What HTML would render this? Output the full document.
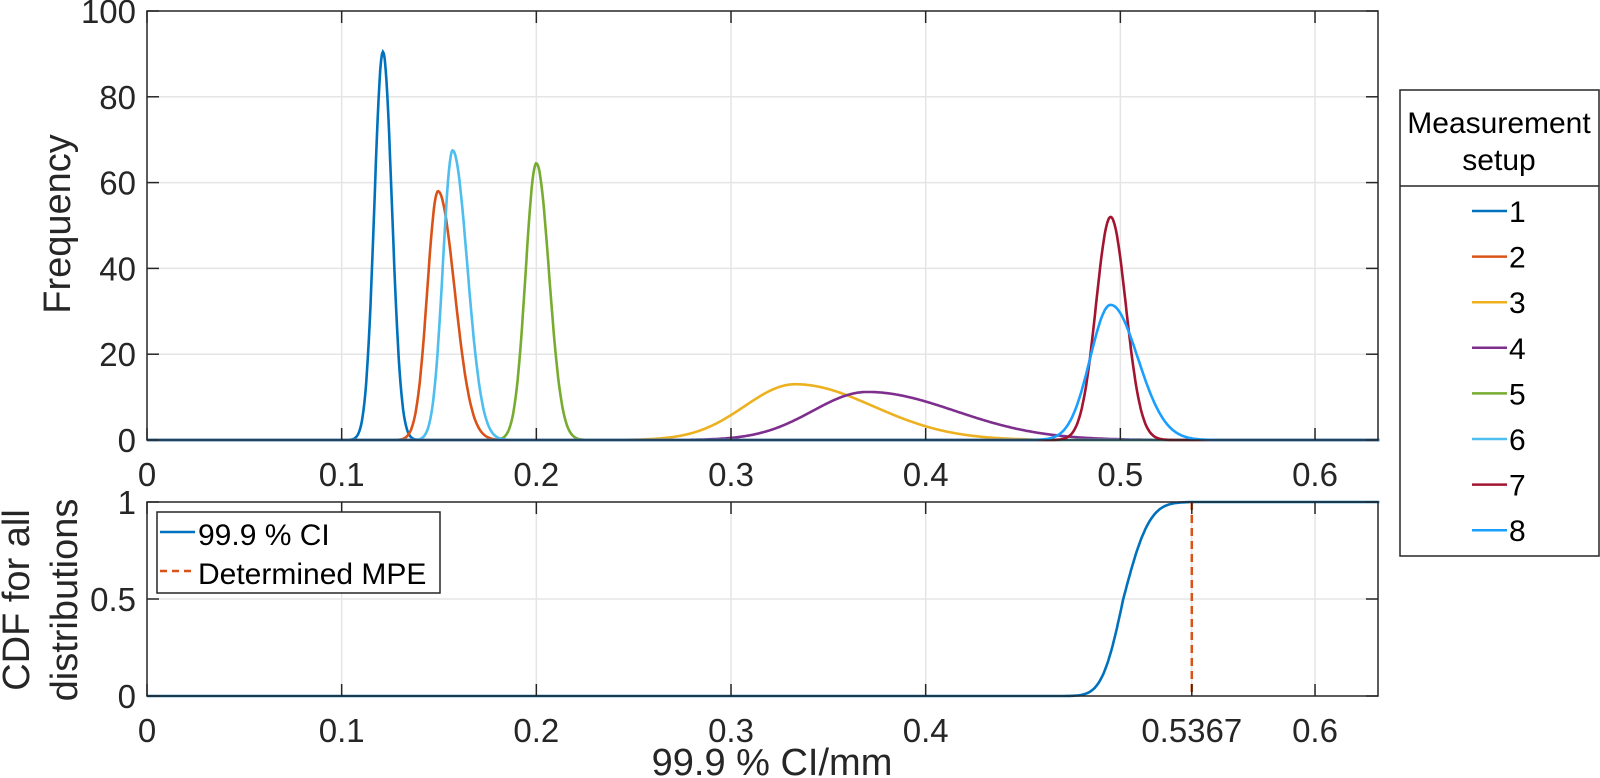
<!DOCTYPE html>
<html><head><meta charset="utf-8"><style>
html,body{margin:0;padding:0;background:#fff;}
svg{display:block;font-family:"Liberation Sans",Arial,sans-serif;}
</style></head><body>
<svg id="s" width="1600" height="778" viewBox="0 0 1600 778" xmlns="http://www.w3.org/2000/svg"></svg>
<script>
const S=document.getElementById('s');let h='';
const X0=147,XS=1946.7,XR=1378;
const X=v=>X0+v*XS;
const T1=11,B1=440,Y1=v=>B1-v*4.29;
const T2=502,B2=696,Y2=v=>B2-v*194;
[0.1,0.2,0.3,0.4,0.5,0.6].forEach(v=>{h+=`<line x1="${X(v)}" y1="${T1}" x2="${X(v)}" y2="${B1}" stroke="#e5e5e5" stroke-width="1.5"/>`;});
[20,40,60,80].forEach(v=>{h+=`<line x1="${X0}" y1="${Y1(v)}" x2="${XR}" y2="${Y1(v)}" stroke="#e5e5e5" stroke-width="1.5"/>`;});
[0.1,0.2,0.3,0.4,0.5367,0.6].forEach(v=>{h+=`<line x1="${X(v)}" y1="${T2}" x2="${X(v)}" y2="${B2}" stroke="#e5e5e5" stroke-width="1.5"/>`;});
h+=`<line x1="${X0}" y1="${Y2(0.5)}" x2="${XR}" y2="${Y2(0.5)}" stroke="#e5e5e5" stroke-width="1.5"/>`;
const series=[
 ['#0072BD',0.1212,90.5,0.0044,0.0046],
 ['#D95319',0.1495,58,0.0055,0.0085],
 ['#EDB120',0.333,13,0.026,0.04],
 ['#7E2F8E',0.37,11.2,0.028,0.045],
 ['#77AC30',0.2,64.5,0.0055,0.0065],
 ['#4DBEEE',0.157,67.5,0.005,0.0075],
 ['#A2142F',0.495,52,0.0075,0.0078],
 ['#1A9FFF',0.495,31.5,0.0105,0.014]];
series.forEach(([c,m,p,sl,sr])=>{let d='';for(let i=0;i<=1400;i++){const v=i/1400*0.633;const s=v<m?sl:sr;const y=p*Math.exp(-0.5*((v-m)/s)**2);d+=(i?'L':'M')+X(v).toFixed(1)+' '+Y1(y).toFixed(1);}
h+=`<path d="${d}" fill="none" stroke="${c}" stroke-width="2.6"/>`;});
function erf(x){const t=1/(1+0.3275911*Math.abs(x));const y=1-(((((1.061405429*t-1.453152027)*t)+1.421413741)*t-0.284496736)*t+0.254829592)*t*Math.exp(-x*x);return x>=0?y:-y;}
let d='';for(let i=0;i<=1400;i++){const v=i/1400*0.633;const m=0.5015;const s=v<m?0.0085:0.0105;const y=0.5*(1+erf((v-m)/(s*Math.SQRT2)));d+=(i?'L':'M')+X(v).toFixed(1)+' '+Y2(y).toFixed(1);}
h+=`<path d="${d}" fill="none" stroke="#0072BD" stroke-width="2.6"/>`;
h+=`<line x1="${X(0.5367)}" y1="${T2}" x2="${X(0.5367)}" y2="${B2}" stroke="#D95319" stroke-width="2.5" stroke-dasharray="8,5"/>`;
h+=`<rect x="${X0}" y="${T1}" width="${XR-X0}" height="${B1-T1}" fill="none" stroke="#262626" stroke-width="1.5"/>`;
h+=`<rect x="${X0}" y="${T2}" width="${XR-X0}" height="${B2-T2}" fill="none" stroke="#262626" stroke-width="1.5"/>`;
const tf='font-size="33" fill="#262626"';
[0,0.1,0.2,0.3,0.4,0.5,0.6].forEach(v=>{const x=X(v);h+=`<line x1="${x}" y1="${B1}" x2="${x}" y2="${B1-12}" stroke="#262626" stroke-width="1.5"/><line x1="${x}" y1="${T1}" x2="${x}" y2="${T1+12}" stroke="#262626" stroke-width="1.5"/><text x="${x}" y="486" text-anchor="middle" ${tf}>${v}</text>`;});
[0,20,40,60,80,100].forEach(v=>{const y=Y1(v);h+=`<line x1="${X0}" y1="${y}" x2="${X0+12}" y2="${y}" stroke="#262626" stroke-width="1.5"/><line x1="${XR}" y1="${y}" x2="${XR-12}" y2="${y}" stroke="#262626" stroke-width="1.5"/><text x="136" y="${y+12}" text-anchor="end" ${tf}>${v}</text>`;});
[[0,'0'],[0.1,'0.1'],[0.2,'0.2'],[0.3,'0.3'],[0.4,'0.4'],[0.5367,'0.5367'],[0.6,'0.6']].forEach(([v,l])=>{const x=X(v);h+=`<line x1="${x}" y1="${B2}" x2="${x}" y2="${B2-12}" stroke="#262626" stroke-width="1.5"/><line x1="${x}" y1="${T2}" x2="${x}" y2="${T2+12}" stroke="#262626" stroke-width="1.5"/><text x="${x}" y="742" text-anchor="middle" ${tf}>${l}</text>`;});
[[0,'0'],[0.5,'0.5'],[1,'1']].forEach(([v,l])=>{const y=Y2(v);h+=`<line x1="${X0}" y1="${y}" x2="${X0+12}" y2="${y}" stroke="#262626" stroke-width="1.5"/><line x1="${XR}" y1="${y}" x2="${XR-12}" y2="${y}" stroke="#262626" stroke-width="1.5"/><text x="136" y="${y+12}" text-anchor="end" ${tf}>${l}</text>`;});
h+=`<text transform="translate(70,224) rotate(-90)" text-anchor="middle" font-size="38" fill="#262626">Frequency</text>`;
h+=`<text transform="translate(29,600) rotate(-90)" text-anchor="middle" font-size="38" fill="#262626">CDF for all</text>`;
h+=`<text transform="translate(77,600) rotate(-90)" text-anchor="middle" font-size="38" fill="#262626">distributions</text>`;
h+=`<text x="772" y="775" text-anchor="middle" font-size="38" fill="#262626">99.9 % CI/mm</text>`;
h+=`<rect x="157" y="512" width="283" height="81" fill="#fff" stroke="#262626" stroke-width="1.5"/>`;
h+=`<line x1="160" y1="532" x2="195" y2="532" stroke="#0072BD" stroke-width="2.5"/><text x="198" y="545" font-size="30" fill="#000">99.9 % CI</text>`;
h+=`<line x1="160" y1="571" x2="195" y2="571" stroke="#D95319" stroke-width="2.5" stroke-dasharray="7,5"/><text x="198" y="584" font-size="30" fill="#000">Determined MPE</text>`;
h+=`<rect x="1400" y="90" width="199" height="466" fill="#fff" stroke="#262626" stroke-width="1.5"/><line x1="1400" y1="186" x2="1599" y2="186" stroke="#262626" stroke-width="1.5"/>`;
h+=`<text x="1499" y="133" text-anchor="middle" font-size="30" fill="#000">Measurement</text><text x="1499" y="170" text-anchor="middle" font-size="30" fill="#000">setup</text>`;
series.forEach(([c],i)=>{const y=211+i*45.6;h+=`<line x1="1472" y1="${y}" x2="1507" y2="${y}" stroke="${c}" stroke-width="2.5"/><text x="1509" y="${y+11}" font-size="30" fill="#000">${i+1}</text>`;});
S.innerHTML=h;
</script>
</body></html>
